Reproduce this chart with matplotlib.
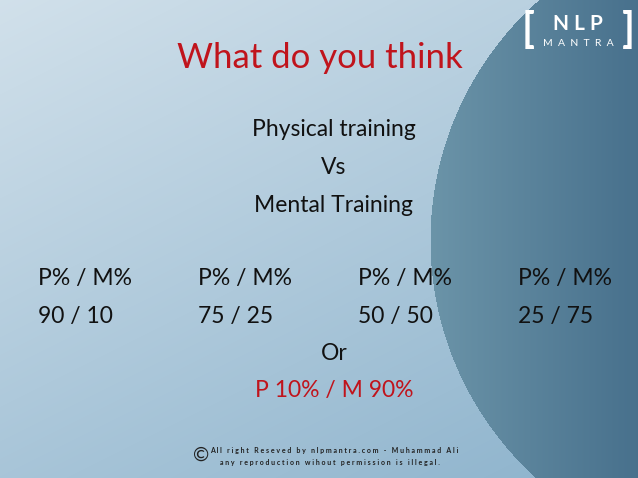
import numpy as np
import matplotlib
matplotlib.use("Agg")
import matplotlib.pyplot as plt

title = "What do you think"
subtitle = ["Physical training", "Vs", "Mental Training"]
header = "P% / M%"
ratios = ["90 / 10", "75 / 25", "50 / 50", "25 / 75"]
col_x = [38, 198, 358, 518]
answer = "P 10% / M 90%"

W, H = 638, 478
fig = plt.figure(figsize=(W/100, H/100), dpi=100)
ax = fig.add_axes([0, 0, 1, 1])
ax.set_xlim(0, W); ax.set_ylim(H, 0); ax.axis("off")

yy, xx = np.mgrid[0:H, 0:W]
t = (xx / W * 0.4 + yy / H * 0.6)
c1 = np.array([0.82, 0.88, 0.92]); c2 = np.array([0.55, 0.70, 0.80])
img = c1 * (1 - t[..., None]) + c2 * t[..., None]
d = np.sqrt((xx - 750.0)**2 + (yy - 240.0)**2)
inside = d < 320
dark1 = np.array([0.42, 0.58, 0.66]); dark2 = np.array([0.28, 0.44, 0.55])
tt = np.clip((xx - 430) / 210, 0, 1)[..., None]
img = np.where(inside[..., None], dark1 * (1 - tt) + dark2 * tt, img)
ax.imshow(img, extent=(0, W, H, 0), aspect="auto", zorder=0)

fam = ["Lato", "DejaVu Sans"]
ax.text(320, 58, title, color="#C0141C", fontsize=25, ha="center", va="center", family=fam)
for i, s in enumerate(subtitle):
    ax.text(334, 130 + i * 38, s, color="#111111", fontsize=16.5, ha="center", va="center", family=fam)
for x, r in zip(col_x, ratios):
    ax.text(x, 278, header, color="#111111", fontsize=16.5, ha="left", va="center", family=fam)
    ax.text(x, 317, r, color="#111111", fontsize=16.5, ha="left", va="center", family=fam)
ax.text(334, 354, "Or", color="#111111", fontsize=16.5, ha="center", va="center", family=fam)
ax.text(334, 390, answer, color="#C0141C", fontsize=16.5, ha="center", va="center", family=fam)

# logo
ax.text(528, 30, "[", color="white", fontsize=30, ha="center", va="center", family=fam, weight="bold")
ax.text(628, 30, "]", color="white", fontsize=30, ha="center", va="center", family=fam, weight="bold")
ax.text(578, 24, "N L P", color="white", fontsize=15, ha="center", va="center", family=fam, weight="bold")
ax.text(578, 43, "M  A  N  T  R  A", color="white", fontsize=7.5, ha="center", va="center", family=fam)

ax.text(201, 455, "©", color="#222222", fontsize=14, ha="center", va="center", family=fam)
ax.text(210, 451, "A l l   r i g h t   R e s e v e d   b y   n l p m a n t r a . c o m   -   M u h a m m a d   A l i",
        color="#222222", fontsize=5.0, ha="left", va="center", family=fam, weight="bold")
ax.text(220, 463, "a n y   r e p r o d u c t i o n   w i h o u t   p e r m i s s i o n   i s   i l l e g a l .",
        color="#222222", fontsize=5.0, ha="left", va="center", family=fam, weight="bold")

fig.savefig("out.png", dpi=100)
